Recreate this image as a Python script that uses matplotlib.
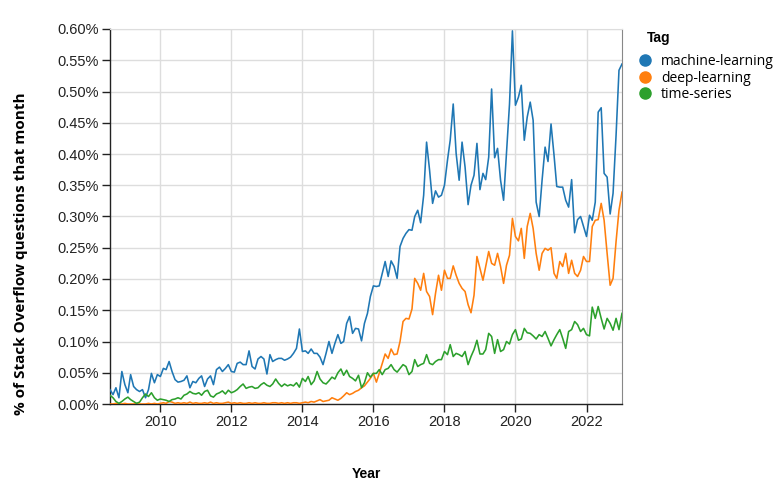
import numpy as np
import pandas as pd
import matplotlib
matplotlib.use("Agg")
import matplotlib.pyplot as plt
import matplotlib.dates as mdates
from matplotlib.lines import Line2D
from matplotlib.ticker import FuncFormatter, MultipleLocator

months = pd.date_range("2008-08-01", periods=174, freq="MS")

# % of Stack Overflow questions per month
machine_learning = [
    0.023, 0.015, 0.026, 0.010, 0.052, 0.031, 0.018, 0.047, 0.028, 0.023, 0.020, 0.023,
    0.010, 0.023, 0.049, 0.034, 0.047, 0.044, 0.057, 0.055, 0.068, 0.052, 0.039, 0.035,
    0.036, 0.038, 0.045, 0.026, 0.036, 0.034, 0.041, 0.045, 0.028, 0.040, 0.045, 0.031,
    0.055, 0.059, 0.052, 0.057, 0.063, 0.052, 0.051, 0.065, 0.067, 0.063, 0.063, 0.085,
    0.060, 0.056, 0.072, 0.076, 0.072, 0.048, 0.079, 0.068, 0.071, 0.073, 0.073, 0.070,
    0.072, 0.075, 0.081, 0.089, 0.120, 0.084, 0.085, 0.081, 0.088, 0.081, 0.081, 0.075,
    0.063, 0.081, 0.100, 0.081, 0.097, 0.111, 0.097, 0.100, 0.129, 0.140, 0.113, 0.121,
    0.120, 0.101, 0.129, 0.145, 0.172,
    0.189, 0.188, 0.189, 0.209, 0.228, 0.204, 0.229, 0.220, 0.201, 0.252, 0.265, 0.273,
    0.279, 0.278, 0.300, 0.310, 0.290, 0.334, 0.419, 0.374, 0.321, 0.341, 0.331, 0.334,
    0.350, 0.390, 0.422, 0.480, 0.401, 0.358, 0.419, 0.379, 0.319, 0.350, 0.366, 0.417,
    0.343, 0.369, 0.359, 0.395, 0.504, 0.394, 0.409, 0.358, 0.326, 0.401, 0.480, 0.597,
    0.478, 0.491, 0.510, 0.422, 0.459, 0.483, 0.454, 0.323, 0.300, 0.358, 0.411, 0.388,
    0.448, 0.398, 0.348, 0.347, 0.347, 0.326, 0.315, 0.359, 0.274, 0.295, 0.300, 0.284,
    0.268, 0.302, 0.294, 0.323, 0.467, 0.474, 0.369, 0.363, 0.304, 0.337, 0.430, 0.534, 0.544,
]

deep_learning = [
    0.000, 0.000, 0.001, 0.000, 0.000, 0.001, 0.000, 0.000, 0.000, 0.001, 0.000, 0.000,
    0.000, 0.001, 0.000, 0.001, 0.000, 0.001, 0.002, 0.001, 0.004, 0.003, 0.001, 0.002,
    0.001, 0.002, 0.001, 0.003, 0.001, 0.002, 0.001, 0.001, 0.002, 0.001, 0.003, 0.001,
    0.002, 0.001, 0.001, 0.002, 0.003, 0.001, 0.002, 0.001, 0.002, 0.001, 0.001, 0.002,
    0.001, 0.002, 0.001, 0.001, 0.002, 0.001, 0.001, 0.002, 0.002, 0.001, 0.002, 0.001,
    0.002, 0.001, 0.002, 0.002, 0.001, 0.002, 0.003, 0.002, 0.004, 0.003, 0.005, 0.007,
    0.004, 0.005, 0.006, 0.010, 0.008, 0.006, 0.009, 0.013, 0.018, 0.015, 0.017, 0.020,
    0.022, 0.026, 0.029, 0.035, 0.041,
    0.049, 0.035, 0.049, 0.065, 0.080, 0.073, 0.088, 0.079, 0.080, 0.100, 0.132, 0.137,
    0.136, 0.152, 0.201, 0.193, 0.182, 0.209, 0.180, 0.172, 0.143, 0.177, 0.206, 0.182,
    0.214, 0.201, 0.201, 0.221, 0.206, 0.193, 0.185, 0.180, 0.159, 0.146, 0.174, 0.236,
    0.217, 0.198, 0.220, 0.244, 0.225, 0.222, 0.241, 0.220, 0.193, 0.222, 0.238, 0.297,
    0.268, 0.261, 0.281, 0.233, 0.284, 0.305, 0.281, 0.241, 0.214, 0.241, 0.249, 0.246,
    0.250, 0.209, 0.201, 0.228, 0.220, 0.241, 0.209, 0.230, 0.209, 0.204, 0.214, 0.236,
    0.228, 0.228, 0.284, 0.294, 0.295, 0.321, 0.294, 0.241, 0.190, 0.201, 0.260, 0.310, 0.339,
]

time_series = [
    0.014, 0.010, 0.004, 0.001, 0.004, 0.008, 0.011, 0.007, 0.004, 0.001, 0.003, 0.010,
    0.016, 0.012, 0.018, 0.010, 0.006, 0.008, 0.007, 0.006, 0.004, 0.007, 0.008, 0.010,
    0.008, 0.014, 0.016, 0.020, 0.017, 0.016, 0.018, 0.014, 0.020, 0.022, 0.013, 0.011,
    0.016, 0.018, 0.021, 0.016, 0.022, 0.018, 0.020, 0.023, 0.028, 0.032, 0.025, 0.027,
    0.028, 0.025, 0.026, 0.031, 0.034, 0.030, 0.028, 0.032, 0.040, 0.033, 0.028, 0.032,
    0.029, 0.031, 0.029, 0.034, 0.027, 0.041, 0.036, 0.044, 0.031, 0.037, 0.052, 0.040,
    0.034, 0.032, 0.037, 0.043, 0.040, 0.050, 0.056, 0.046, 0.054, 0.044, 0.041, 0.037,
    0.046, 0.026, 0.034, 0.050, 0.043,
    0.049, 0.049, 0.055, 0.047, 0.055, 0.057, 0.063, 0.055, 0.051, 0.057, 0.063, 0.060,
    0.047, 0.052, 0.071, 0.060, 0.063, 0.065, 0.079, 0.065, 0.063, 0.068, 0.071, 0.071,
    0.084, 0.079, 0.095, 0.076, 0.081, 0.079, 0.076, 0.084, 0.063, 0.076, 0.087, 0.102,
    0.080, 0.080, 0.087, 0.113, 0.108, 0.081, 0.103, 0.084, 0.087, 0.100, 0.096, 0.111,
    0.119, 0.102, 0.104, 0.121, 0.114, 0.113, 0.109, 0.104, 0.111, 0.108, 0.116, 0.105,
    0.093, 0.103, 0.111, 0.119, 0.105, 0.089, 0.116, 0.119, 0.132, 0.127, 0.116, 0.121,
    0.111, 0.109, 0.155, 0.137, 0.156, 0.137, 0.120, 0.137, 0.129, 0.118, 0.137, 0.119, 0.145,
]

tags = ["machine-learning", "deep-learning", "time-series"]
colors = ["#1f77b4", "#ff7f0e", "#2ca02c"]
series = [machine_learning, deep_learning, time_series]

plt.rcParams["font.family"] = ["Liberation Sans", "DejaVu Sans"]

fig = plt.figure(figsize=(7.82, 4.92), dpi=100)
ax = fig.add_axes([110 / 782, 1 - 404 / 492, 512 / 782, 375 / 492])

for vals, c in zip(series, colors):
    ax.plot(months, vals, color=c, lw=1.15, zorder=3)

ax.set_xlim(pd.Timestamp("2008-08-01"), pd.Timestamp("2023-01-01"))
ax.set_ylim(0, 0.6)
ax.yaxis.set_major_locator(MultipleLocator(0.05))
ax.yaxis.set_major_formatter(FuncFormatter(lambda v, p: f"{v:.2f}%"))
ax.xaxis.set_major_locator(mdates.YearLocator(2))
ax.xaxis.set_major_formatter(mdates.DateFormatter("%Y"))

ax.grid(True, color="#dddddd", lw=1.0, zorder=0)
ax.set_axisbelow(True)
for side in ["left", "bottom"]:
    ax.spines[side].set_color("#222222")
    ax.spines[side].set_linewidth(1.0)
ax.spines["top"].set_color("#dddddd")
ax.spines["right"].set_color("#888888")
ax.tick_params(axis="both", length=6, width=1.0, color="#222222",
               labelsize=10.5, labelcolor="#222222", pad=2)

ax.set_xlabel("Year", fontsize=10, fontweight="bold")
ax.set_ylabel("% of Stack Overflow questions that month", fontsize=11,
              fontweight="bold", family=["Open Sans", "DejaVu Sans"])
ax.xaxis.set_label_coords(0.5, -0.168)
ax.yaxis.set_label_coords(-0.16, 0.40)

fig.text(647 / 782, 1 - 38 / 492, "Tag", fontsize=10, fontweight="bold",
         ha="left", va="center")
handles = [Line2D([], [], ls="none", marker="o", markersize=8, color=c) for c in colors]
leg = fig.legend(handles, tags, loc="upper left",
                 bbox_to_anchor=(641 / 782, 1 - 54 / 492), frameon=False,
                 prop={"family": ["Open Sans", "DejaVu Sans"], "size": 10},
                 handletextpad=0.85, labelspacing=0.12, handlelength=0.6,
                 borderaxespad=0, borderpad=0)

fig.savefig("out.png", dpi=100)
